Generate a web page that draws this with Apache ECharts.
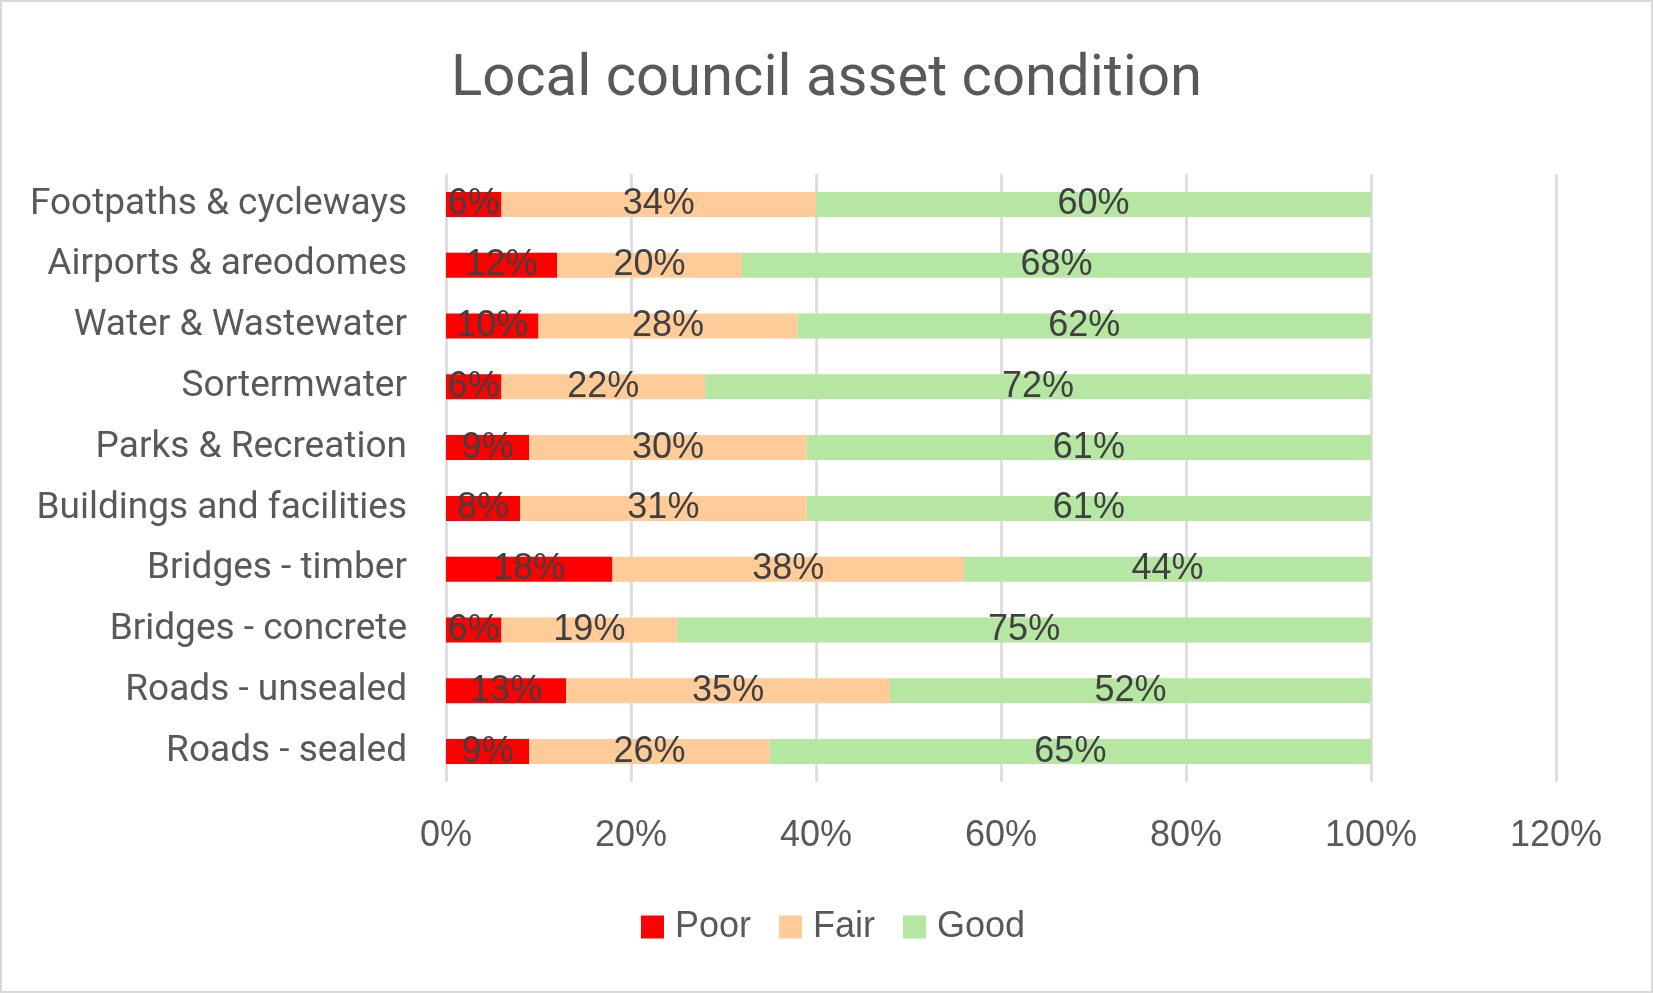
<!DOCTYPE html>
<html>
<head>
<meta charset="utf-8">
<title>Local council asset condition</title>
<script src="https://cdn.jsdelivr.net/npm/echarts@6/dist/echarts.min.js"></script>
<style>
  html, body { margin: 0; padding: 0; background: #fff; }
  #chart {
    width: 1653px;
    height: 993px;
    box-sizing: border-box;
    border: 2px solid #d9d9d9;
  }
</style>
</head>
<body>
<div id="chart"></div>
<script>
// categories, bottom to top (as the category axis draws them)
const categories = [
  "Roads - sealed",
  "Roads - unsealed",
  "Bridges - concrete",
  "Bridges - timber",
  "Buildings and facilities",
  "Parks & Recreation",
  "Sortermwater",
  "Water & Wastewater",
  "Airports & areodomes",
  "Footpaths & cycleways"
]

// percentages per condition
const poor = [9, 13, 6, 18, 8, 9, 6, 10, 12, 6]
const fair = [26, 35, 19, 38, 31, 30, 22, 28, 20, 34]
const good = [65, 52, 75, 44, 61, 61, 72, 62, 68, 60]

const xTicks = { min: 0, max: 120, interval: 20 }

const colors = { Poor: "#ff0000", Fair: "#ffcc99", Good: "#b5e6a2" }

const chart = echarts.init(document.getElementById("chart"))

// one stacked bar series
const makeSeries = (name, data) => ({
  name: name,
  type: "bar",
  stack: "total",
  barWidth: 25,
  data: data,
  itemStyle: { color: colors[name] },
  label: {
    show: true,
    position: "inside",
    formatter: "{c}%",
    color: "#404040",
    fontFamily: "Liberation Sans",
    fontSize: 36
  },
  emphasis: { disabled: true }
})

const option = {
  animation: false,
  title: {
    text: "Local council asset condition",
    left: "center",
    top: 44,
    textStyle: {
      fontFamily: "Roboto",
      fontSize: 58,
      fontWeight: "normal",
      color: "#595959"
    }
  },
  legend: {
    data: ["Poor", "Fair", "Good"],
    left: 634,
    top: 902,
    itemWidth: 23,
    itemHeight: 23,
    itemGap: 28,
    icon: "rect",
    textStyle: {
      fontFamily: "Liberation Sans",
      fontSize: 36,
      color: "#595959",
      padding: [0, 0, 0, 6]
    }
  },
  grid: {
    left: 444,
    top: 172,
    width: 1110,
    height: 608
  },
  xAxis: {
    type: "value",
    min: xTicks.min,
    max: xTicks.max,
    interval: xTicks.interval,
    axisLine: { show: false },
    axisTick: { show: false },
    axisLabel: {
      formatter: "{value}%",
      margin: 36,
      fontFamily: "Liberation Sans",
      fontSize: 36,
      color: "#595959"
    },
    splitLine: { lineStyle: { color: "#d9d9d9", width: 2.5 } }
  },
  yAxis: {
    type: "category",
    data: categories,
    axisLine: { show: false },
    axisTick: { show: false },
    axisLabel: {
      margin: 39,
      fontFamily: "Roboto",
      fontSize: 37,
      color: "#595959"
    }
  },
  series: [
    makeSeries("Poor", poor),
    makeSeries("Fair", fair),
    makeSeries("Good", good)
  ]
}

chart.setOption(option)
</script>
</body>
</html>
